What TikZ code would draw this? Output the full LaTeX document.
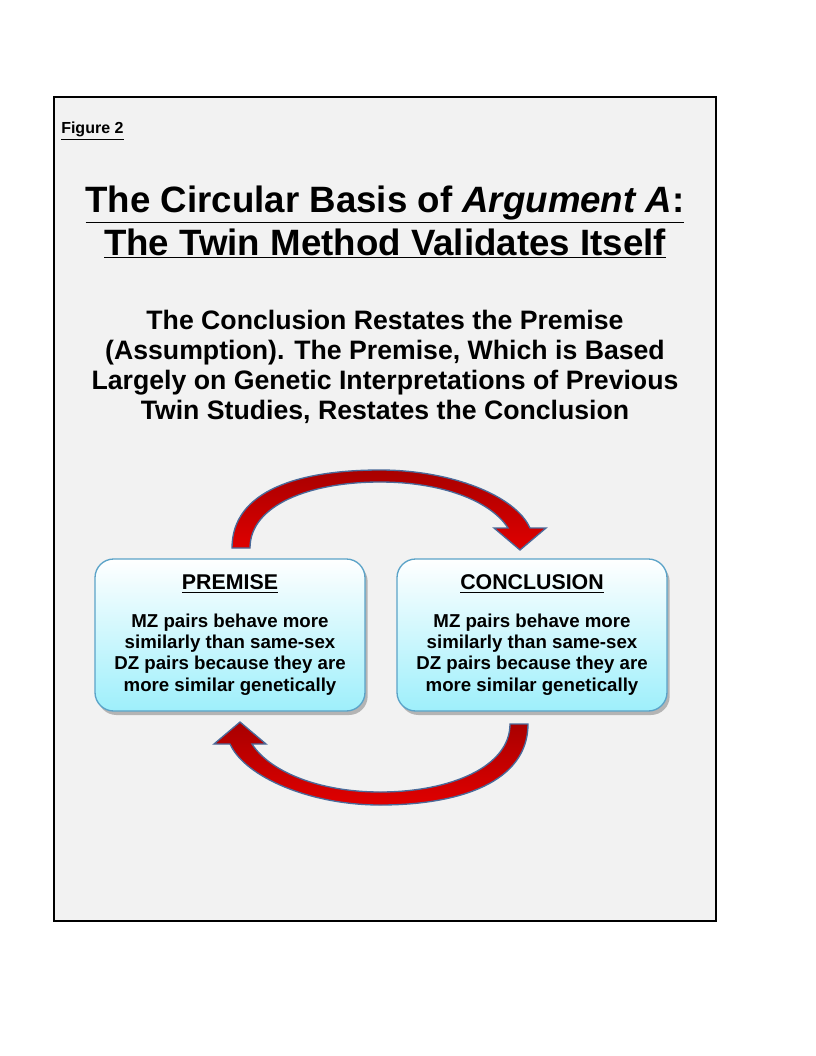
\documentclass[tikz,border=0pt]{standalone}
\usepackage{fontspec}
\setmainfont{Liberation Sans}
\usetikzlibrary{shadows}
\definecolor{bg}{HTML}{F2F2F2}
\definecolor{boxedge}{HTML}{5BA3C8}
\definecolor{boxbot}{HTML}{9EEFFB}
\definecolor{arrred}{HTML}{E00000}
\definecolor{arredge}{HTML}{4A6A9A}
\tikzset{
  textbox/.style={draw=boxedge, line width=1pt, rounded corners=14pt, top color=white, bottom color=boxbot,
    drop shadow={shadow xshift=2pt, shadow yshift=-3pt, fill=black!45, opacity=0.6},
    minimum width=202.5pt, minimum height=114pt, align=center, font=\bfseries\fontsize{14}{16}\selectfont, inner sep=0pt},
  arcarrow/.style={draw=arredge, line width=1pt, left color=arrred!75!black, right color=arrred, shading angle=0},
  lbl/.style={align=center, font=\bfseries}
}
\begin{document}
\begin{tikzpicture}[x=0.75pt,y=-0.75pt]
\useasboundingbox (0,0) rectangle (816,1056);
\node[draw=black, line width=1pt, fill=bg, minimum width=496.5pt, minimum height=618pt, inner sep=0pt] (frame) at (385,509) {};
\node[lbl, anchor=west, font=\bfseries\fontsize{12}{14}\selectfont, inner sep=0pt] (fig) at (61,131) {\underline{Figure 2}};
\node[lbl, font=\bfseries\fontsize{27.5}{32}\selectfont] (title) at (385,222) {\underline{The Circular Basis of \textit{Argument A}:}\\\underline{The Twin Method Validates Itself}};
\node[lbl, font=\bfseries\fontsize{20}{22.6}\selectfont] (sub) at (385,367) {The Conclusion Restates the Premise\\(Assumption). The Premise, Which is Based\\Largely on Genetic Interpretations of Previous\\Twin Studies, Restates the Conclusion};
\node[textbox] (prem) at (230,635) {\fontsize{16}{18}\selectfont\underline{PREMISE}\\[12pt]MZ pairs behave more\\similarly than same-sex\\DZ pairs because they are\\more similar genetically};
\node[textbox] (conc) at (532,635) {\fontsize{16}{18}\selectfont\underline{CONCLUSION}\\[12pt]MZ pairs behave more\\similarly than same-sex\\DZ pairs because they are\\more similar genetically};
\coordinate (c) at (380,636);
\path[arcarrow] (232,548) .. controls (232,490) and (300,470) .. (380,470)
  .. controls (450,470) and (515,495) .. (530,528) -- (546,528) -- (520,550) -- (494,528) -- (508,528)
  .. controls (490,500) and (440,482) .. (380,482) .. controls (310,482) and (250,505) .. (250,548) -- cycle;
\path[arcarrow, rotate around={180:(c)}] (232,548) .. controls (232,490) and (300,467) .. (380,467)
  .. controls (450,467) and (515,495) .. (530,528) -- (546,528) -- (520,550) -- (494,528) -- (508,528)
  .. controls (490,500) and (440,480) .. (380,480) .. controls (310,480) and (250,505) .. (250,548) -- cycle;
\end{tikzpicture}
\end{document}
